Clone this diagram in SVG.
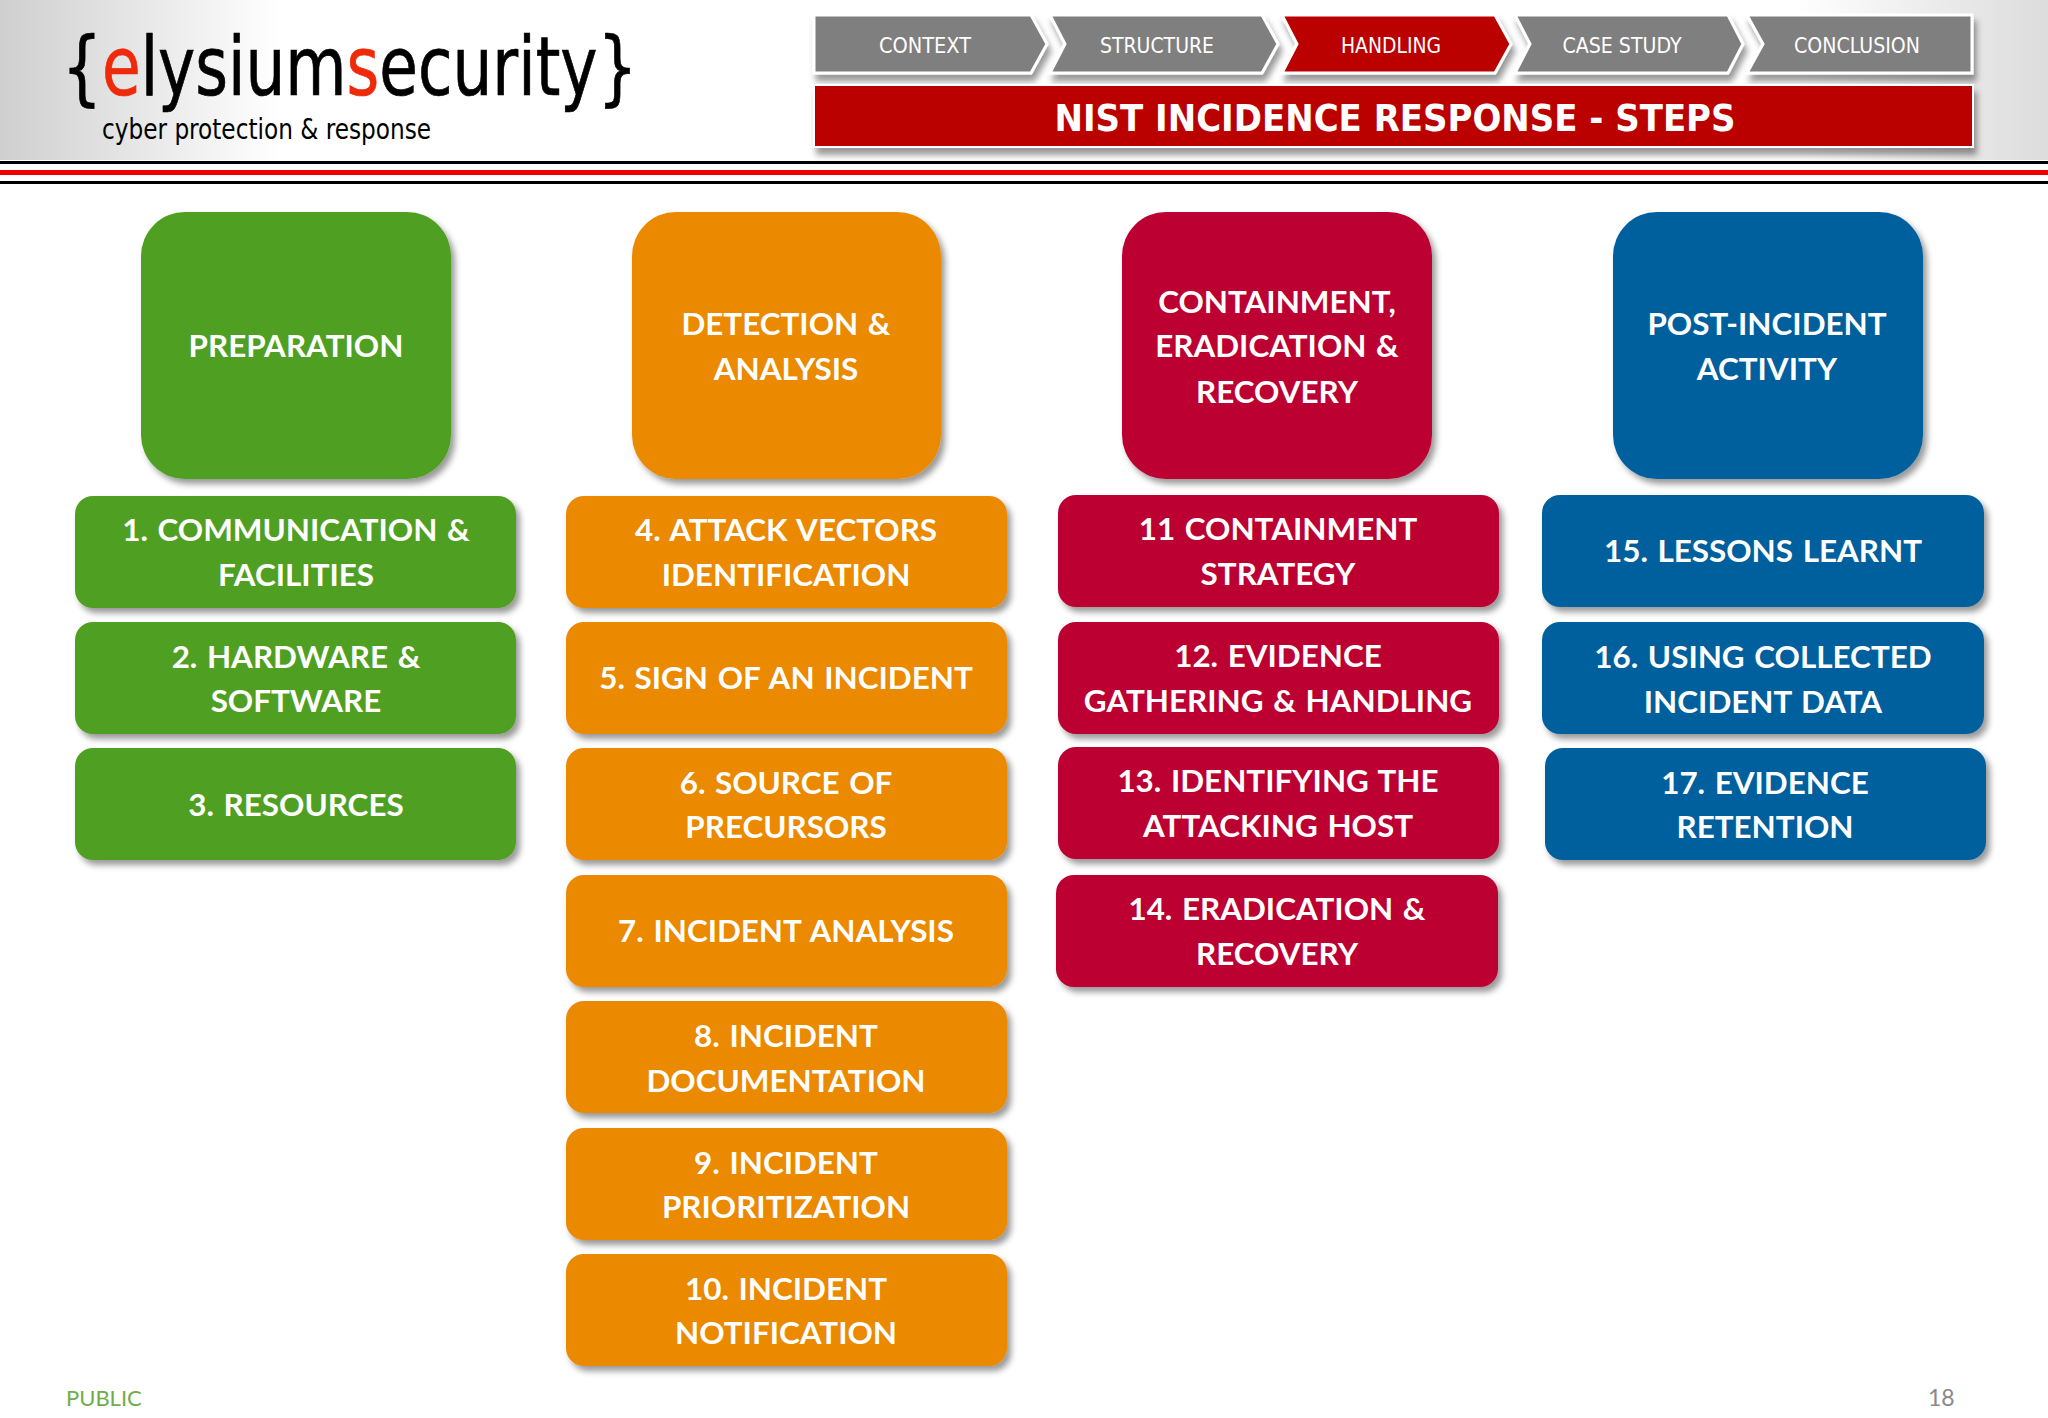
<svg xmlns="http://www.w3.org/2000/svg" width="2048" height="1418" viewBox="0 0 2048 1418">
<defs>
<linearGradient id="hl" x1="0" x2="1" y1="0" y2="0"><stop offset="0" stop-color="#cfcfcf"/><stop offset="1" stop-color="#fff"/></linearGradient>
<linearGradient id="hr" x1="0" x2="1" y1="0" y2="0"><stop offset="0" stop-color="#fff"/><stop offset="1" stop-color="#dcdcdc"/></linearGradient>
<filter id="sh" x="-10%" y="-10%" width="125%" height="125%"><feDropShadow dx="4" dy="5" stdDeviation="3" flood-color="#000" flood-opacity=".4"/></filter>
<filter id="shb" x="-5%" y="-20%" width="110%" height="150%"><feDropShadow dx="3" dy="7" stdDeviation="3" flood-color="#000" flood-opacity=".4"/></filter>
</defs>
<style>
.t{font-family:"Lato","Liberation Sans",sans-serif;font-weight:700;font-size:31.4px;word-spacing:2px;fill:#fff;text-anchor:middle}
.g{fill:#50a020}.o{fill:#eb8900}.c{fill:#bd0330}.b{fill:#01619d}
.n{fill:#7f7f7f;stroke:#fff;stroke-width:3}.r{fill:#bb0000;stroke:#fff;stroke-width:3}
.k{font-family:"DejaVu Sans Condensed","DejaVu Sans",sans-serif;font-size:21px;fill:#fff;text-anchor:middle}
.box{filter:url(#sh)}
</style>
<rect width="2048" height="1418" fill="#fff"/>
<g id="header">
<rect x="0" y="0" width="280" height="160" fill="url(#hl)"/>
<rect x="1795" y="0" width="253" height="160" fill="url(#hr)"/>
<rect x="0" y="161" width="2048" height="3" fill="#000"/>
<rect x="0" y="170" width="2048" height="5" fill="#ee0000"/>
<rect x="0" y="181" width="2048" height="3" fill="#000"/>
</g>
<g id="logo" font-family="'DejaVu Sans Condensed','DejaVu Sans',sans-serif">
<text transform="translate(62 95) scale(.852 1)" font-size="82" fill="#000" stroke="#000" stroke-width=".7">{<tspan fill="#ee2a0a" stroke="#ee2a0a">e</tspan>lysium<tspan fill="#ee2a0a" stroke="#ee2a0a">s</tspan>ecurity}</text>
<text x="102" y="139" font-size="28" fill="#000" textLength="329" lengthAdjust="spacingAndGlyphs">cyber protection &amp; response</text>
</g>
<g id="nav">
<g id="nav-context"><path class="n" d="M814 15H1031L1047 44L1031 73H814Z" filter="url(#shb)"/><text class="k" x="925" y="53" textLength="92" lengthAdjust="spacingAndGlyphs">CONTEXT</text></g>
<g id="nav-structure"><path class="n" d="M1050 15H1262L1278 44L1262 73H1050L1065 44Z" filter="url(#shb)"/><text class="k" x="1157" y="53" textLength="114" lengthAdjust="spacingAndGlyphs">STRUCTURE</text></g>
<g id="nav-handling"><path class="r" d="M1282 15H1495L1511 44L1495 73H1282L1297 44Z" filter="url(#shb)"/><text class="k" x="1391" y="53" textLength="100" lengthAdjust="spacingAndGlyphs">HANDLING</text></g>
<g id="nav-case"><path class="n" d="M1515 15H1728L1743 44L1728 73H1515L1530 44Z" filter="url(#shb)"/><text class="k" x="1622" y="53" textLength="119" lengthAdjust="spacingAndGlyphs">CASE STUDY</text></g>
<g id="nav-conclusion"><path class="n" d="M1747 15H1972V73H1747L1763 44Z" filter="url(#shb)"/><text class="k" x="1857" y="53" textLength="126" lengthAdjust="spacingAndGlyphs">CONCLUSION</text></g>
<g id="title"><rect x="814" y="85" width="1159" height="62" fill="#bb0000" stroke="#fff" stroke-width="2" filter="url(#shb)"/><text x="1395" y="131" font-family="'DejaVu Sans','Liberation Sans',sans-serif" font-weight="700" font-size="37" fill="#fff" text-anchor="middle" textLength="681" lengthAdjust="spacingAndGlyphs">NIST INCIDENCE RESPONSE - STEPS</text></g>
</g>
<g id="preparation"><rect class="g box" x="141" y="212" width="310" height="267" rx="44"/><text class="t" x="296" y="357">PREPARATION</text></g>
<g id="detection"><rect class="o box" x="632" y="212" width="309" height="267" rx="44"/><text class="t" x="786" y="335">DETECTION &amp;</text><text class="t" x="786" y="380">ANALYSIS</text></g>
<g id="containment"><rect class="c box" x="1122" y="212" width="310" height="267" rx="44"/><text class="t" x="1277" y="313">CONTAINMENT,</text><text class="t" x="1277" y="357">ERADICATION &amp;</text><text class="t" x="1277" y="403">RECOVERY</text></g>
<g id="post-incident"><rect class="b box" x="1613" y="212" width="310" height="267" rx="44"/><text class="t" x="1767" y="335">POST-INCIDENT</text><text class="t" x="1767" y="380">ACTIVITY</text></g>
<g id="s1"><rect class="g box" x="75" y="496" width="441" height="112" rx="18"/><text class="t" x="296" y="541">1. COMMUNICATION &amp;</text><text class="t" x="296" y="586">FACILITIES</text></g>
<g id="s2"><rect class="g box" x="75" y="622" width="441" height="112" rx="18"/><text class="t" x="296" y="668">2. HARDWARE &amp;</text><text class="t" x="296" y="712">SOFTWARE</text></g>
<g id="s3"><rect class="g box" x="75" y="748" width="441" height="112" rx="18"/><text class="t" x="296" y="816">3. RESOURCES</text></g>
<g id="s4"><rect class="o box" x="566" y="496" width="441" height="112" rx="18"/><text class="t" x="786" y="541">4. ATTACK VECTORS</text><text class="t" x="786" y="586">IDENTIFICATION</text></g>
<g id="s5"><rect class="o box" x="566" y="622" width="441" height="112" rx="18"/><text class="t" x="786" y="689">5. SIGN OF AN INCIDENT</text></g>
<g id="s6"><rect class="o box" x="566" y="748" width="441" height="112" rx="18"/><text class="t" x="786" y="794">6. SOURCE OF</text><text class="t" x="786" y="838">PRECURSORS</text></g>
<g id="s7"><rect class="o box" x="566" y="875" width="441" height="112" rx="18"/><text class="t" x="786" y="942">7. INCIDENT ANALYSIS</text></g>
<g id="s8"><rect class="o box" x="566" y="1001" width="441" height="112" rx="18"/><text class="t" x="786" y="1047">8. INCIDENT</text><text class="t" x="786" y="1092">DOCUMENTATION</text></g>
<g id="s9"><rect class="o box" x="566" y="1128" width="441" height="112" rx="18"/><text class="t" x="786" y="1174">9. INCIDENT</text><text class="t" x="786" y="1218">PRIORITIZATION</text></g>
<g id="s10"><rect class="o box" x="566" y="1254" width="441" height="112" rx="18"/><text class="t" x="786" y="1300">10. INCIDENT</text><text class="t" x="786" y="1344">NOTIFICATION</text></g>
<g id="s11"><rect class="c box" x="1058" y="495" width="441" height="112" rx="18"/><text class="t" x="1278" y="540">11 CONTAINMENT</text><text class="t" x="1278" y="585">STRATEGY</text></g>
<g id="s12"><rect class="c box" x="1058" y="622" width="441" height="112" rx="18"/><text class="t" x="1278" y="667">12. EVIDENCE</text><text class="t" x="1278" y="712">GATHERING &amp; HANDLING</text></g>
<g id="s13"><rect class="c box" x="1058" y="747" width="441" height="112" rx="18"/><text class="t" x="1278" y="792">13. IDENTIFYING THE</text><text class="t" x="1278" y="837">ATTACKING HOST</text></g>
<g id="s14"><rect class="c box" x="1056" y="875" width="442" height="112" rx="18"/><text class="t" x="1277" y="920">14. ERADICATION &amp;</text><text class="t" x="1277" y="965">RECOVERY</text></g>
<g id="s15"><rect class="b box" x="1542" y="495" width="442" height="112" rx="18"/><text class="t" x="1763" y="562">15. LESSONS LEARNT</text></g>
<g id="s16"><rect class="b box" x="1542" y="622" width="442" height="112" rx="18"/><text class="t" x="1763" y="668">16. USING COLLECTED</text><text class="t" x="1763" y="713">INCIDENT DATA</text></g>
<g id="s17"><rect class="b box" x="1545" y="748" width="441" height="112" rx="18"/><text class="t" x="1765" y="794">17. EVIDENCE</text><text class="t" x="1765" y="838">RETENTION</text></g>
<g id="footer"><text x="66" y="1406" font-family="Lato,sans-serif" font-size="22" fill="#70ad47">PUBLIC</text><text x="1928" y="1406" font-family="Lato,sans-serif" font-size="23" fill="#898989">18</text></g>
</svg>
